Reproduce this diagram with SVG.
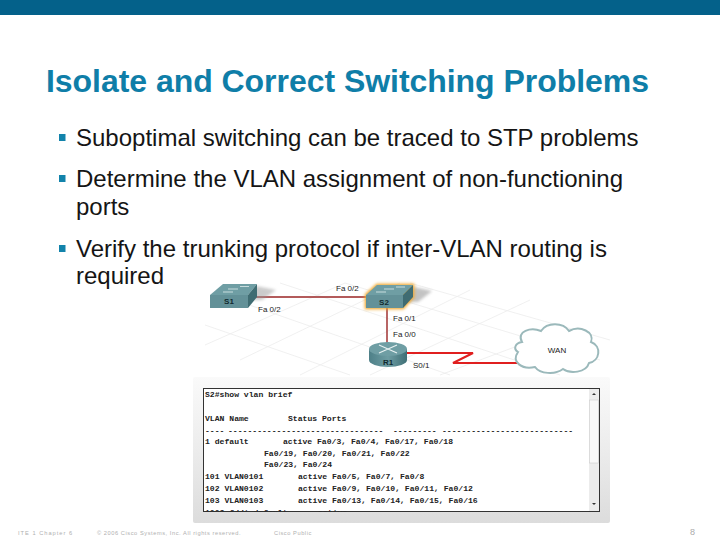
<svg xmlns="http://www.w3.org/2000/svg" width="720" height="540" viewBox="0 0 720 540">
<defs>
<style>
text{font-family:"Liberation Sans",Arial,sans-serif}
.title{font-size:32px;font-weight:700;fill:#0f7ea8}
.body{font-size:24px;fill:#151515}
.bul{fill:#1283ab}
.lab{font-size:8px;fill:#222}
.dev{font-size:8px;font-weight:700;fill:#112a2e}
.foot{font-size:5.700px;fill:#b0b0b0;letter-spacing:.55px}
.con{font-family:"Liberation Mono",monospace;font-size:8.100px;font-weight:700;fill:#222}
.grid{stroke:#ececec;stroke-width:.8;fill:none}
.link{stroke:#9a2424;stroke-width:1.400;fill:none}
</style>
<linearGradient id="cyl" x1="0" x2="1" y1="0" y2="0"><stop offset="0" stop-color="#4e8088"/><stop offset=".5" stop-color="#6d9ca2"/><stop offset="1" stop-color="#3f6f76"/></linearGradient>
<linearGradient id="panel" x1="0" x2="0" y1="0" y2="1"><stop offset="0" stop-color="#fafafa"/><stop offset=".5" stop-color="#ececec"/><stop offset="1" stop-color="#dcdcdc"/></linearGradient>
<filter id="blur" x="-30%" y="-30%" width="160%" height="160%"><feGaussianBlur stdDeviation="1.500"/></filter>
<clipPath id="win"><rect x="204" y="389" width="385" height="122.500"/></clipPath>
</defs>
<rect width="720" height="540" fill="#fff"/>
<rect width="720" height="15" fill="#04618a"/>
<text class="title" x="46" y="92" textLength="603">Isolate and Correct Switching Problems</text>
<g id="bullets">
<rect class="bul" x="59" y="134" width="6.500" height="7"/><text class="body" x="76" y="146">Suboptimal switching can be traced to STP problems</text>
<rect class="bul" x="59" y="175" width="6.500" height="7"/><text class="body" x="76" y="187">Determine the VLAN assignment of non-functioning</text>
<text class="body" x="76" y="215">ports</text>
<rect class="bul" x="59" y="245" width="6.500" height="7"/><text class="body" x="76" y="257">Verify the trunking protocol if inter-VLAN routing is</text>
<text class="body" x="76" y="284">required</text>
</g>
<g id="grid" class="grid">
<path d="M205 345L345 283M240 360L400 283M300 375L470 290M370 375L530 300M440 375L560 330M280 283L560 375M235 300L450 375M205 325L350 375M345 283L600 360M410 283L610 340"/>
</g>
<g id="connectors">
<path class="link" d="M256 297H366"/>
<path class="link" d="M387 307V343"/>
<path d="M406 353H473L453 363H520" fill="none" stroke="#e01f1f" stroke-width="2"/>
</g>
<g id="S1">
<polygon points="256,286 276,290 262,300 250,300" fill="#999" opacity=".5" filter="url(#blur)"/>
<polygon points="223,284 257,284 248,295 210,295" fill="#6f9ea4"/>
<path d="M228 289h10M240 286.500h9M223 292h10" stroke="#dfeeee" stroke-width=".8"/>
<rect x="210" y="295" width="38" height="13" fill="#639198"/>
<polygon points="248,295 257,284 257,297 248,308" fill="#3f6c72"/>
<text class="dev" x="229" y="304" text-anchor="middle">S1</text>
</g>
<g id="S2">
<polygon points="414,287 432,291 418,302 404,302" fill="#888" opacity=".5" filter="url(#blur)"/>
<polygon points="366,295 377,285 413,285 413,297 403,308 366,308" fill="#f0a62a" stroke="#f0a62a" stroke-width="2.500" filter="url(#blur)"/>
<polygon points="377,285 413,285 403,295 366,295" fill="#6f9ea4"/>
<path d="M384 289h10M396 287h9M376 292h10" stroke="#dfeeee" stroke-width=".8"/>
<rect x="366" y="295" width="37" height="13" fill="#639198"/>
<polygon points="403,295 413,285 413,297 403,308" fill="#3f6c72"/>
<text class="dev" x="384" y="305" text-anchor="middle">S2</text>
</g>
<g id="R1">
<path d="M369 349V360A19 7 0 0 0 407 360V349Z" fill="url(#cyl)"/>
<ellipse cx="388" cy="349" rx="19" ry="7" fill="#6f9ea4"/>
<path d="M379 345L397 353M397 345L379 353" stroke="#e8f2f2" stroke-width="1.200"/>
<text class="dev" x="388" y="365" text-anchor="middle">R1</text>
</g>
<g id="WAN">
<path d="M522 342C516 331 531 327 541 331C547 322 563 322 569 331C580 325 595 332 591 342C602 346 600 361 589 363C586 373 570 374 563 369C555 375 540 374 535 367C522 370 511 362 518 352C513 349 515 343 522 342Z" fill="#fff" stroke="#9bb9bb" stroke-width="2"/>
<text class="lab" x="557" y="353" text-anchor="middle">WAN</text>
</g>
<g id="labels">
<text class="lab" x="336" y="291">Fa 0/2</text>
<text class="lab" x="258" y="312">Fa 0/2</text>
<text class="lab" x="393" y="321">Fa 0/1</text>
<text class="lab" x="393" y="337">Fa 0/0</text>
<text class="lab" x="413" y="368">S0/1</text>
</g>
<g id="console">
<rect x="193" y="377" width="417" height="146" rx="2" fill="url(#panel)"/>
<rect x="203.500" y="388.500" width="396" height="123" fill="#fff" stroke="#333"/>
<rect x="589" y="389" width="10" height="122" fill="#ececec"/>
<rect x="589.500" y="400" width="9" height="63" fill="#f8f8f8" stroke="#ccc" stroke-width=".6"/>
<path d="M592 395l2-2 2 2zM592 503l2 2 2-2z" fill="#333"/>
<g clip-path="url(#win)">
<text class="con" x="205" y="397">S2#show vlan brief</text>
<text class="con" x="205" y="421">VLAN Name</text><text class="con" x="288" y="421">Status Ports</text>
<text class="con" x="205" y="433">----</text><text class="con" x="228" y="433">--------------------------------</text><text class="con" x="393" y="433">---------</text><text class="con" x="442" y="433">---------------------------</text>
<text class="con" x="205" y="444">1 default</text><text class="con" x="283" y="444">active Fa0/3, Fa0/4, Fa0/17, Fa0/18</text>
<text class="con" x="264" y="456">Fa0/19, Fa0/20, Fa0/21, Fa0/22</text>
<text class="con" x="264" y="467">Fa0/23, Fa0/24</text>
<text class="con" x="205" y="479">101 VLAN0101</text><text class="con" x="298" y="479">active Fa0/5, Fa0/7, Fa0/8</text>
<text class="con" x="205" y="491">102 VLAN0102</text><text class="con" x="298" y="491">active Fa0/9, Fa0/10, Fa0/11, Fa0/12</text>
<text class="con" x="205" y="503">103 VLAN0103</text><text class="con" x="298" y="503">active Fa0/13, Fa0/14, Fa0/15, Fa0/16</text>
<text class="con" x="205" y="515">1002 fddi-default</text><text class="con" x="318" y="515">active</text>
</g>
</g>
<g id="footer">
<text class="foot" x="18" y="535" style="letter-spacing:1px">ITE 1 Chapter 6</text>
<text class="foot" x="97" y="535">© 2006 Cisco Systems, Inc. All rights reserved.</text>
<text class="foot" x="274" y="535">Cisco Public</text>
<text x="690" y="535" font-size="9" fill="#aaa">8</text>
</g>
</svg>
